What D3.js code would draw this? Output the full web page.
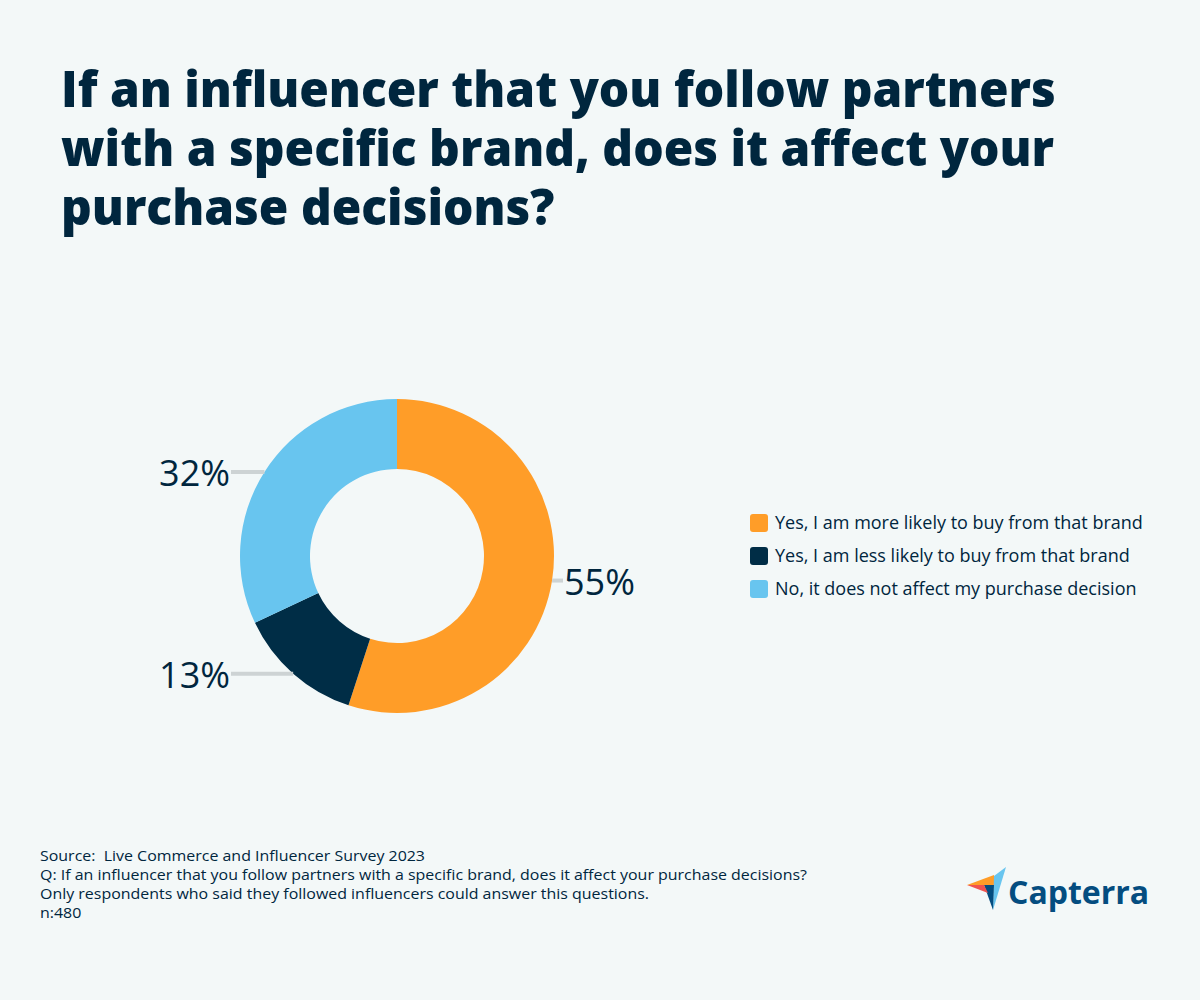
<!DOCTYPE html>
<html><head><meta charset="utf-8">
<script src="https://cdn.jsdelivr.net/npm/d3@7"></script>
<style>
html,body{margin:0;padding:0;background:#F3F8F8;}
svg{display:block;}
text{white-space:pre;}
</style></head>
<body>
<svg id="chart" width="1200" height="1000"></svg>
<script>
const categories = ["Yes, I am more likely to buy from that brand","Yes, I am less likely to buy from that brand","No, it does not affect my purchase decision"];
const values = [55, 13, 32];
const colors = ["#FF9D28", "#002D46", "#68C5EF"];
const titleLines = ["If an influencer that you follow partners","with a specific brand, does it affect your","purchase decisions?"];
const footerLines = ["Source:  Live Commerce and Influencer Survey 2023","Q: If an influencer that you follow partners with a specific brand, does it affect your purchase decisions?","Only respondents who said they followed influencers could answer this questions.","n:480"];

const svg = d3.select("#chart");
const ink = "#00263E";
svg.append("rect").attr("width",1200).attr("height",1000).attr("fill","#F3F8F8");

// Title
const title = svg.append("g");
titleLines.forEach((t,i)=>{
  title.append("text").attr("x",0).attr("y",0)
    .attr("transform",`translate(61,${107+i*59}) scale(1.114,1.163)`)
    .attr("font-family","'Open Sans'").attr("font-weight",800).attr("font-size",43)
    .attr("fill",ink).text(t);
});

// Donut
const cx = 397, cy = 556, rOut = 157, rIn = 87;
const pie = d3.pie().sort(null).value(d=>d);
const arcs = pie(values);
const arc = d3.arc().innerRadius(rIn).outerRadius(rOut);
const g = svg.append("g").attr("transform",`translate(${cx},${cy})`);
g.selectAll("path").data(arcs).join("path").attr("d",arc).attr("fill",(d,i)=>colors[i]);

// Labels with connectors
arcs.forEach((d,i)=>{
  const a = (d.startAngle+d.endAngle)/2;
  const px = rOut*Math.sin(a), py = -rOut*Math.cos(a);
  const right = px>0;
  const endX = right ? 563-cx : 231-cx;
  g.append("line").attr("x1",px).attr("y1",py).attr("x2",endX).attr("y2",py)
    .attr("stroke","#CDD3D4").attr("stroke-width",4);
  g.append("text").attr("x", right? endX+1 : endX-1).attr("y",py+14)
    .attr("text-anchor", right?"start":"end")
    .attr("font-family","'Open Sans'").attr("font-size",36).attr("fill",ink)
    .text(values[i]+"%");
});

// Legend
const leg = svg.append("g").attr("transform","translate(750,514)");
categories.forEach((c,i)=>{
  const row = leg.append("g").attr("transform",`translate(0,${i*33})`);
  row.append("rect").attr("width",18).attr("height",18).attr("rx",3).attr("fill",colors[i]);
  row.append("text").attr("x",25).attr("y",15).attr("font-family","'Open Sans'")
    .attr("font-size",18).attr("fill",ink).text(c);
});

// Footer
const foot = svg.append("g");
footerLines.forEach((t,i)=>{
  foot.append("text").attr("x",0).attr("y",0)
    .attr("font-family","'Open Sans'").attr("font-size",14).attr("fill",ink).text(t)
    .attr("transform",`translate(40,${861+i*19}) scale(1.14,1)`);
});

// Logo
const logo = svg.append("g");
logo.append("polygon").attr("points","967,885 994,875 994,885").attr("fill","#FF9D28");
logo.append("polygon").attr("points","994,876 1006,867 993,910").attr("fill","#68C5EF");
logo.append("polygon").attr("points","984,885 994,885 993,910").attr("fill","#044D80");
logo.append("polygon").attr("points","967,885 984,885 988,893").attr("fill","#F0534F");
logo.append("text").attr("x",1008).attr("y",904).attr("font-family","'Open Sans'")
  .attr("font-weight",700).attr("font-size",32).attr("fill","#044D80").text("Capterra");
</script>
</body></html>
